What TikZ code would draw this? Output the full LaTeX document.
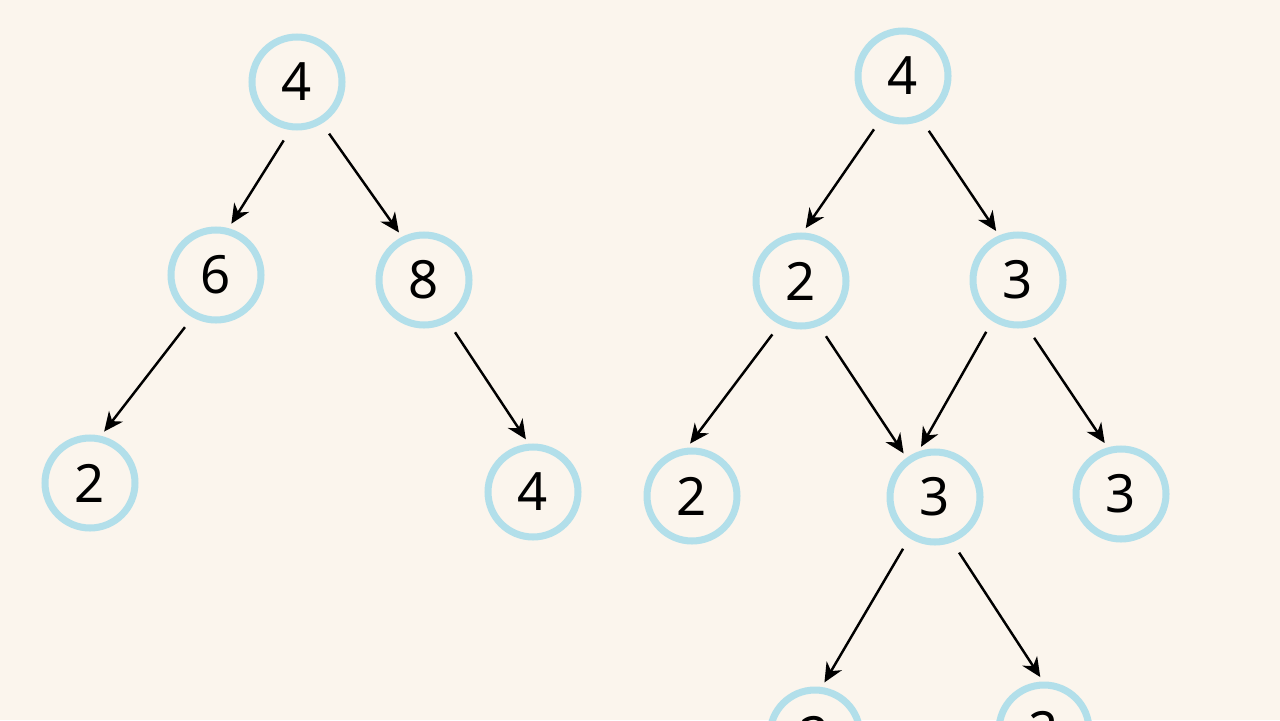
\documentclass[tikz,border=0pt]{standalone}
\usepackage{fontspec}
\setmainfont{Noto Sans}
\usetikzlibrary{arrows.meta}
\definecolor{paper}{RGB}{251,245,237}
\definecolor{ring}{RGB}{178,223,234}
\begin{document}
\begin{tikzpicture}[x=0.02cm, y=-0.02cm,
        vertex/.style={circle, draw=ring, line width=4pt, fill=paper, minimum size=1.8cm, inner sep=0pt, font=\fontsize{30}{34}\selectfont},
        edge/.style={line width=1.4pt, -{Stealth[length=11pt, width=10pt, inset=3.5pt]}, shorten <=7pt, shorten >=3pt}]
    \fill[paper] (0,0) rectangle (1280,720);
    \clip (0,0) rectangle (1280,720);
    % left tree
    \node[vertex] (L1) at (297,82) {4};
    \node[vertex] (L2) at (216,275) {6};
    \node[vertex] (L3) at (424,280) {8};
    \node[vertex] (L4) at (90,483) {2};
    \node[vertex] (L5) at (533,492) {4};
    % right tree
    \node[vertex] (R1) at (903,76) {4};
    \node[vertex] (R2) at (801,281) {2};
    \node[vertex] (R3) at (1018,280) {3};
    \node[vertex] (R4) at (692,496) {2};
    \node[vertex] (R5) at (935,497) {3};
    \node[vertex] (R6) at (1121,494) {3};
    \node[vertex] (R7) at (815,735) {2};
    \node[vertex] (R8) at (1044,730) {2};
    % edges leave and enter at the angles of the sketch
    \foreach \from/\a/\to/\b in {L1/262/L2/75, L1/301/L3/117, L2/241/L4/77, L3/300/L5/95,
            R1/243/R2/88, R1/293/R3/113, R2/244/R4/96, R2/292/R5/126,
            R3/238/R5/110, R3/281/R6/106, R5/238/R7/82, R5/291/R8/91}
        \draw[edge] (\from.\a) -- (\to.\b);
\end{tikzpicture}
\end{document}
